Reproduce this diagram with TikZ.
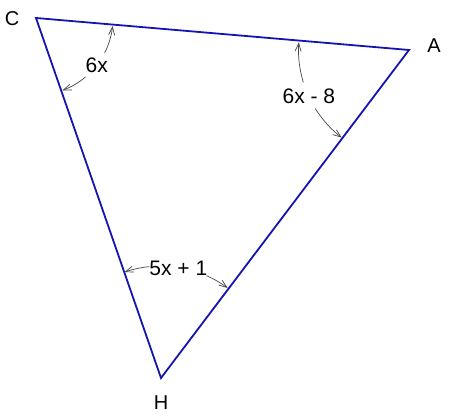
\documentclass[tikz,border=0pt]{standalone}
\usepackage{fontspec}
\setmainfont{Liberation Sans}
\usetikzlibrary{arrows.meta,calc}
\begin{document}
\begin{tikzpicture}[x=1pt,y=1pt,
  side/.style={draw={rgb,255:red,20;green,20;blue,175},line width=1.8pt,line join=miter},
  arr/.style={draw={rgb,255:red,70;green,70;blue,70},line width=0.7pt,-{Straight Barb[length=8pt,width=6pt]}},
  vlab/.style={font=\fontsize{20}{20}\selectfont,inner sep=0pt},
  alab/.style={font=\fontsize{21}{21}\selectfont,inner sep=0pt}]
\useasboundingbox (0,0) rectangle (450,420);
\coordinate (C) at (36,402);
\coordinate (A) at (409,370);
\coordinate (H) at (161,42);
\draw[side] (C) -- (A) -- (H) -- cycle;
\node[vlab] (lC) at (12,401) {C};
\node[vlab] (lA) at (434,374) {A};
\node[vlab] (lH) at (161,17) {H};
% angle C
\node[alab] (gC) at ($(C)+(-38:77)$) {6x};
\coordinate (c1) at ($(C)+(-27:77)$);
\coordinate (c2) at ($(C)+(-50:77)$);
\draw[arr] (c1) arc[start angle=-27,end angle=-6,radius=77];
\draw[arr] (c2) arc[start angle=-50,end angle=-70,radius=77];
% angle A
\node[alab] (gA) at ($(A)+(205:110.5)$) {6x - 8};
\coordinate (a1) at ($(A)+(197:110.5)$);
\coordinate (a2) at ($(A)+(212:110.5)$);
\draw[arr] (a1) arc[start angle=197,end angle=176,radius=110.5];
\draw[arr] (a2) arc[start angle=212,end angle=232.5,radius=110.5];
% angle H
\node[alab] (gH) at ($(H)+(81:111)$) {5x + 1};
\coordinate (h1) at ($(H)+(96:112)$);
\coordinate (h2) at ($(H)+(66:112)$);
\draw[arr] (h1) arc[start angle=96,end angle=109,radius=112];
\draw[arr] (h2) arc[start angle=66,end angle=53.5,radius=112];
\end{tikzpicture}
\end{document}
